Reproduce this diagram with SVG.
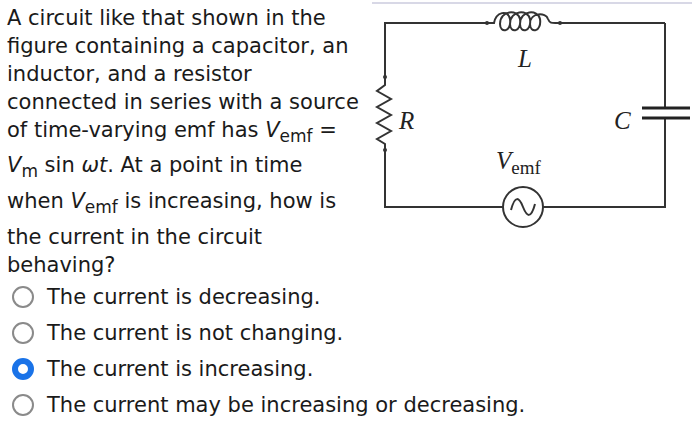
<svg xmlns="http://www.w3.org/2000/svg" width="700" height="424" viewBox="0 0 700 424">
<style>
.t{font-family:"DejaVu Sans",Verdana,sans-serif;font-size:21px;fill:#1a1a1a}
.s{font-family:"Liberation Serif",serif;font-size:25px;font-style:italic;fill:#222}
.w{fill:none;stroke:#333;stroke-width:2}
.r{fill:#fff;stroke:#8a8a8a;stroke-width:2}
</style>
<rect width="700" height="424" fill="#fff"/>
<line x1="372" y1="3" x2="692" y2="3" stroke="#d8d8e6" stroke-width="2"/>
<g id="question">
<text class="t" x="7" y="25">A circuit like that shown in the</text>
<text class="t" x="7" y="53">figure containing a capacitor, an</text>
<text class="t" x="7" y="81">inductor, and a resistor</text>
<text class="t" x="7" y="109">connected in series with a source</text>
<text class="t" x="7" y="137">of time-varying emf has <tspan font-style="italic">V</tspan><tspan font-size="17" dy="5">emf</tspan><tspan dy="-5"> =</tspan></text>
<text class="t" x="7" y="172"><tspan font-style="italic">V</tspan><tspan font-size="17" dy="5">m</tspan><tspan dy="-5"> sin </tspan><tspan font-style="italic">ωt</tspan>. At a point in time</text>
<text class="t" x="7" y="208">when <tspan font-style="italic">V</tspan><tspan font-size="17" dy="5">emf</tspan><tspan dy="-5"> is increasing, how is</tspan></text>
<text class="t" x="7" y="244">the current in the circuit</text>
<text class="t" x="7" y="272">behaving?</text>
</g>
<g id="options">
<circle class="r" cx="23" cy="297" r="10"/>
<text class="t" x="47" y="304">The current is decreasing.</text>
<circle class="r" cx="23" cy="333" r="10"/>
<text class="t" x="47" y="340">The current is not changing.</text>
<circle cx="23" cy="369" r="8" fill="#fff" stroke="#1a73e8" stroke-width="6"/>
<text class="t" x="47" y="376">The current is increasing.</text>
<circle class="r" cx="23" cy="405" r="10"/>
<text class="t" x="47" y="412">The current may be increasing or decreasing.</text>
</g>
<g id="wires">
<path class="w" d="M487 23H385V77M385 150V207H503M543 207H665V118M665 23V108M560 23H665"/>
<circle cx="385" cy="77" r="2" fill="#333"/><circle cx="385" cy="150" r="2" fill="#333"/>
<circle cx="487" cy="23" r="2" fill="#333"/><circle cx="560" cy="23" r="2" fill="#333"/>
</g>
<g id="inductor">
<path class="w" d="M487 23H494C496 12 508 9 510 19C512 32 500 34 500 24C500 10 518 9 520 19C522 32 510 34 510 24C510 10 528 9 530 19C532 32 520 34 520 24C520 10 538 9 540 19C542 32 530 34 530 24C530 12 546 12 548 19C550 24 552 23 560 23"/>
<text class="s" x="518" y="67">L</text>
</g>
<g id="resistor">
<path class="w" d="M385 77V85L377 91L391 99L377 107L391 115L377 123L391 131L377 139L385 144V150"/>
<text class="s" x="399" y="129">R</text>
</g>
<g id="capacitor">
<line x1="642" y1="108" x2="690" y2="108" stroke="#222" stroke-width="3"/>
<line x1="642" y1="118" x2="690" y2="118" stroke="#222" stroke-width="3"/>
<text class="s" x="614" y="129">C</text>
</g>
<g id="source">
<circle class="w" cx="523" cy="207" r="20" fill="#fff"/>
<path class="w" d="M511 210C515 195 519 197 523 207C527 217 531 219 535 204"/>
<text class="s" x="496" y="169">V<tspan font-style="normal" font-size="19" dy="5">emf</tspan></text>
</g>
</svg>
